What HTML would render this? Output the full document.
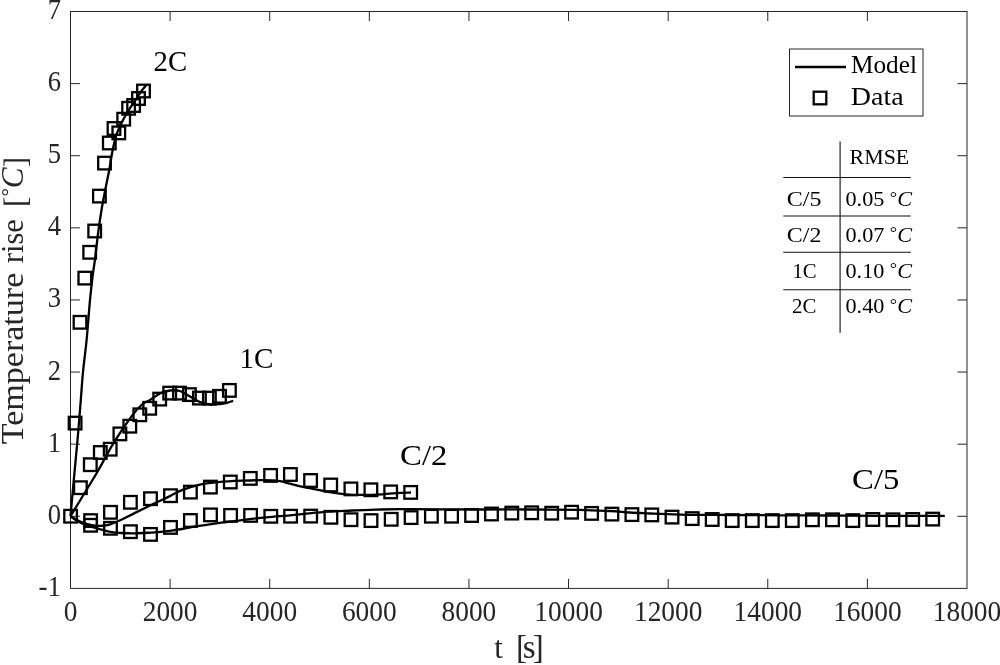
<!DOCTYPE html>
<html lang="en"><head><meta charset="utf-8"><title>Temperature rise: model vs data</title>
<style>html,body{margin:0;padding:0;background:#fff}body{width:1000px;height:665px;overflow:hidden}svg{display:block}text{font-family:"Liberation Serif","DejaVu Serif",serif}</style></head><body>
<svg width="1000" height="665" viewBox="0 0 1000 665">
<rect width="1000" height="665" fill="#fff"/>
<g stroke="#262626" stroke-width="1" fill="none">
<rect x="70.5" y="11.5" width="896.5" height="576.9"/>
<path d="M170.11 588.4v-9.5 M170.11 11.5v9.5"/>
<path d="M269.72 588.4v-9.5 M269.72 11.5v9.5"/>
<path d="M369.33 588.4v-9.5 M369.33 11.5v9.5"/>
<path d="M468.94 588.4v-9.5 M468.94 11.5v9.5"/>
<path d="M568.56 588.4v-9.5 M568.56 11.5v9.5"/>
<path d="M668.17 588.4v-9.5 M668.17 11.5v9.5"/>
<path d="M767.78 588.4v-9.5 M767.78 11.5v9.5"/>
<path d="M867.39 588.4v-9.5 M867.39 11.5v9.5"/>
<path d="M70.5 516.29h9.5 M967.0 516.29h-9.5"/>
<path d="M70.5 444.17h9.5 M967.0 444.17h-9.5"/>
<path d="M70.5 372.06h9.5 M967.0 372.06h-9.5"/>
<path d="M70.5 299.95h9.5 M967.0 299.95h-9.5"/>
<path d="M70.5 227.84h9.5 M967.0 227.84h-9.5"/>
<path d="M70.5 155.73h9.5 M967.0 155.73h-9.5"/>
<path d="M70.5 83.61h9.5 M967.0 83.61h-9.5"/>
</g>
<g fill="#262626" font-size="28.8">
<text x="70.5" y="621.3" text-anchor="middle" textLength="13.7" lengthAdjust="spacingAndGlyphs">0</text>
<text x="170.1" y="621.3" text-anchor="middle" textLength="54.8" lengthAdjust="spacingAndGlyphs">2000</text>
<text x="269.7" y="621.3" text-anchor="middle" textLength="54.8" lengthAdjust="spacingAndGlyphs">4000</text>
<text x="369.3" y="621.3" text-anchor="middle" textLength="54.8" lengthAdjust="spacingAndGlyphs">6000</text>
<text x="468.9" y="621.3" text-anchor="middle" textLength="54.8" lengthAdjust="spacingAndGlyphs">8000</text>
<text x="568.6" y="621.3" text-anchor="middle" textLength="68.5" lengthAdjust="spacingAndGlyphs">10000</text>
<text x="668.2" y="621.3" text-anchor="middle" textLength="68.5" lengthAdjust="spacingAndGlyphs">12000</text>
<text x="767.8" y="621.3" text-anchor="middle" textLength="68.5" lengthAdjust="spacingAndGlyphs">14000</text>
<text x="867.4" y="621.3" text-anchor="middle" textLength="68.5" lengthAdjust="spacingAndGlyphs">16000</text>
<text x="967.0" y="621.3" text-anchor="middle" textLength="68.5" lengthAdjust="spacingAndGlyphs">18000</text>
<text x="61" y="595.9" text-anchor="end" textLength="22.5" lengthAdjust="spacingAndGlyphs">-1</text>
<text x="61" y="523.8" text-anchor="end" textLength="13.3" lengthAdjust="spacingAndGlyphs">0</text>
<text x="61" y="451.7" text-anchor="end" textLength="13.3" lengthAdjust="spacingAndGlyphs">1</text>
<text x="61" y="379.6" text-anchor="end" textLength="13.3" lengthAdjust="spacingAndGlyphs">2</text>
<text x="61" y="307.4" text-anchor="end" textLength="13.3" lengthAdjust="spacingAndGlyphs">3</text>
<text x="61" y="235.3" text-anchor="end" textLength="13.3" lengthAdjust="spacingAndGlyphs">4</text>
<text x="61" y="163.2" text-anchor="end" textLength="13.3" lengthAdjust="spacingAndGlyphs">5</text>
<text x="61" y="91.1" text-anchor="end" textLength="13.3" lengthAdjust="spacingAndGlyphs">6</text>
<text x="61" y="19.0" text-anchor="end" textLength="13.3" lengthAdjust="spacingAndGlyphs">7</text>
</g>
<g fill="#262626" font-size="31">
<text y="657.6" font-size="31"><tspan x="494.2">t </tspan><tspan x="515.9 522.8 532.8" font-size="33">[s]</tspan></text>
<g transform="translate(23.3 0) rotate(-90)">
<text x="-444.3" y="0" textLength="171.6" lengthAdjust="spacingAndGlyphs">Temperature</text>
<text x="-263.1" y="0" textLength="43.8" lengthAdjust="spacingAndGlyphs">rise</text>
<text x="-207" y="0" textLength="50" lengthAdjust="spacingAndGlyphs"><tspan dy="2.5">[</tspan><tspan font-size="21" dy="-9.4">°</tspan><tspan font-style="italic" dy="6.9">C</tspan><tspan dy="2.5">]</tspan></text>
</g>
</g>
<g stroke="#000" stroke-width="2.3" fill="none" stroke-linejoin="round">
<path d="M70.5 516.2C71.6 517.0 74.8 519.4 77.0 520.8C79.2 522.1 80.2 523.0 83.8 524.3C87.4 525.6 94.4 527.5 98.8 528.8C103.2 530.0 106.3 531.1 110.1 531.8C113.9 532.5 117.2 532.8 121.4 533.0C125.6 533.2 130.0 533.4 135.0 533.3C140.0 533.2 147.1 532.8 151.3 532.6C155.5 532.4 156.9 532.2 160.0 531.9C163.1 531.6 166.3 531.4 170.0 530.9C173.7 530.4 178.0 529.7 182.0 529.0C186.0 528.3 188.0 527.7 194.0 526.7C200.0 525.7 210.1 524.2 218.1 523.1C226.1 522.0 234.1 521.1 242.1 520.1C250.1 519.1 258.2 518.1 266.2 517.3C274.2 516.5 283.7 515.9 290.0 515.3C296.3 514.7 297.6 514.5 304.0 513.9C310.4 513.3 320.1 512.3 328.1 511.7C336.1 511.1 344.1 510.9 352.1 510.5C360.1 510.1 368.2 509.8 376.2 509.6C384.2 509.4 389.4 509.2 400.0 509.2C410.6 509.1 426.7 509.2 440.0 509.3C453.3 509.4 465.0 509.5 480.0 509.5C495.0 509.5 513.3 509.4 530.0 509.5C546.7 509.6 566.7 509.6 580.0 509.8C593.3 510.1 601.7 510.6 610.0 511.0C618.3 511.4 623.3 512.1 630.0 512.5C636.7 512.9 641.7 513.1 650.0 513.5C658.3 513.9 666.7 514.4 680.0 514.6C693.3 514.9 713.3 514.9 730.0 515.0C746.7 515.1 763.3 515.2 780.0 515.3C796.7 515.4 813.3 515.4 830.0 515.5C846.7 515.6 860.9 515.8 880.0 515.8C899.1 515.8 934.0 515.8 944.8 515.8"/>
<path d="M70.5 516.2C71.6 516.8 74.8 518.9 77.0 520.0C79.2 521.1 81.5 522.0 83.8 522.8C86.1 523.6 88.5 524.3 91.0 524.8C93.5 525.3 96.5 525.7 98.8 525.8C101.0 525.9 102.6 525.8 104.5 525.5C106.4 525.2 107.3 525.2 110.1 524.3C112.9 523.3 117.2 521.7 121.4 519.8C125.6 517.9 129.2 515.8 135.0 512.9C140.8 510.0 150.4 505.3 156.2 502.5C162.0 499.7 165.7 498.2 170.0 496.1C174.3 494.0 177.0 492.0 182.0 490.1C187.0 488.2 194.1 485.9 200.1 484.6C206.1 483.3 211.1 482.9 218.1 482.2C225.1 481.5 235.1 481.0 242.1 480.7C249.1 480.4 255.2 480.2 260.2 480.2C265.2 480.1 268.9 480.2 272.2 480.4C275.5 480.6 277.0 480.7 280.0 481.2C283.0 481.7 286.0 482.6 290.0 483.6C294.0 484.6 297.6 485.7 304.0 487.1C310.4 488.4 321.1 490.7 328.1 491.9C335.1 493.1 340.1 493.8 346.1 494.3C352.1 494.8 358.2 494.9 364.2 494.9C370.2 494.9 376.2 494.6 382.2 494.3C388.2 494.0 395.2 493.2 400.0 492.9C404.8 492.6 409.2 492.6 411.0 492.5"/>
<path d="M70.5 516.2C72.8 512.5 80.3 500.0 84.0 494.0C87.7 488.0 90.1 484.0 92.5 480.0C94.9 476.0 94.9 476.3 98.5 470.0C102.1 463.7 108.5 451.2 114.1 442.1C119.7 433.0 127.4 421.9 132.1 415.6C136.8 409.3 139.0 407.1 142.0 404.5C145.0 401.9 147.0 401.8 150.0 400.0C153.0 398.2 156.7 395.1 160.0 393.5C163.3 391.9 166.7 390.9 170.0 390.5C173.3 390.1 176.7 390.0 180.0 391.0C183.3 392.0 186.7 394.7 190.0 396.5C193.3 398.3 196.7 400.7 200.0 402.0C203.3 403.3 206.7 404.2 210.0 404.5C213.3 404.8 217.2 404.3 220.0 404.0C222.8 403.7 224.8 403.3 227.0 402.8C229.2 402.3 232.2 401.1 233.2 400.8"/>
<path d="M70.5 516.2C71.0 510.2 72.6 492.7 73.8 480.0C75.0 467.3 76.3 453.3 77.5 440.0C78.7 426.7 79.9 411.3 80.8 400.0C81.7 388.7 82.0 382.0 83.0 372.0C84.0 362.0 85.4 352.0 86.6 340.0C87.8 328.0 89.0 310.5 90.0 300.0C91.0 289.5 91.7 283.7 92.5 277.0C93.3 270.3 93.9 267.8 94.9 260.0C95.9 252.2 97.3 238.8 98.5 230.0C99.7 221.2 100.8 214.2 102.0 207.0C103.2 199.8 104.6 193.2 105.8 187.0C107.0 180.8 108.3 175.3 109.3 169.7C110.3 164.1 111.0 158.9 112.0 153.5C113.0 148.1 114.3 141.9 115.6 137.5C116.8 133.1 118.1 130.2 119.5 127.0C120.9 123.8 122.5 121.1 124.0 118.3C125.5 115.5 127.2 112.6 128.8 110.0C130.4 107.4 131.7 105.6 133.7 102.6C135.7 99.6 138.8 94.7 140.9 91.8C143.0 88.9 145.4 86.3 146.3 85.2"/>
</g>
<g stroke="#000" stroke-width="2.3" fill="none">
<rect x="64.3" y="509.9" width="12.6" height="12.6"/><rect x="84.3" y="519.0" width="12.6" height="12.6"/><rect x="104.2" y="522.0" width="12.6" height="12.6"/><rect x="124.1" y="525.4" width="12.6" height="12.6"/><rect x="144.2" y="528.1" width="12.6" height="12.6"/><rect x="164.2" y="521.1" width="12.6" height="12.6"/><rect x="184.1" y="514.2" width="12.6" height="12.6"/><rect x="204.2" y="508.6" width="12.6" height="12.6"/><rect x="224.3" y="509.1" width="12.6" height="12.6"/><rect x="244.3" y="509.1" width="12.6" height="12.6"/><rect x="264.5" y="510.0" width="12.6" height="12.6"/><rect x="284.3" y="509.9" width="12.6" height="12.6"/><rect x="304.4" y="509.8" width="12.6" height="12.6"/><rect x="324.6" y="511.0" width="12.6" height="12.6"/><rect x="344.7" y="513.4" width="12.6" height="12.6"/><rect x="364.7" y="514.3" width="12.6" height="12.6"/><rect x="384.9" y="513.0" width="12.6" height="12.6"/><rect x="404.8" y="511.3" width="12.6" height="12.6"/><rect x="425.1" y="509.9" width="12.6" height="12.6"/><rect x="445.3" y="509.9" width="12.6" height="12.6"/><rect x="465.3" y="509.2" width="12.6" height="12.6"/><rect x="485.2" y="507.7" width="12.6" height="12.6"/><rect x="505.5" y="506.8" width="12.6" height="12.6"/><rect x="525.4" y="506.5" width="12.6" height="12.6"/><rect x="545.4" y="506.9" width="12.6" height="12.6"/><rect x="565.3" y="505.9" width="12.6" height="12.6"/><rect x="585.3" y="507.1" width="12.6" height="12.6"/><rect x="605.6" y="507.8" width="12.6" height="12.6"/><rect x="625.6" y="508.3" width="12.6" height="12.6"/><rect x="645.5" y="508.6" width="12.6" height="12.6"/><rect x="665.7" y="510.8" width="12.6" height="12.6"/><rect x="685.9" y="512.3" width="12.6" height="12.6"/><rect x="705.9" y="513.2" width="12.6" height="12.6"/><rect x="725.9" y="514.3" width="12.6" height="12.6"/><rect x="746.0" y="514.3" width="12.6" height="12.6"/><rect x="766.0" y="514.3" width="12.6" height="12.6"/><rect x="786.0" y="514.3" width="12.6" height="12.6"/><rect x="806.1" y="513.5" width="12.6" height="12.6"/><rect x="826.2" y="513.5" width="12.6" height="12.6"/><rect x="846.5" y="514.3" width="12.6" height="12.6"/><rect x="866.5" y="513.2" width="12.6" height="12.6"/><rect x="886.6" y="513.5" width="12.6" height="12.6"/><rect x="906.4" y="513.2" width="12.6" height="12.6"/><rect x="926.4" y="512.8" width="12.6" height="12.6"/>
<rect x="84.3" y="514.3" width="12.6" height="12.6"/><rect x="104.2" y="506.0" width="12.6" height="12.6"/><rect x="124.1" y="496.0" width="12.6" height="12.6"/><rect x="144.2" y="492.4" width="12.6" height="12.6"/><rect x="164.2" y="489.4" width="12.6" height="12.6"/><rect x="184.1" y="485.8" width="12.6" height="12.6"/><rect x="204.1" y="480.8" width="12.6" height="12.6"/><rect x="224.0" y="475.7" width="12.6" height="12.6"/><rect x="244.0" y="472.1" width="12.6" height="12.6"/><rect x="264.3" y="469.1" width="12.6" height="12.6"/><rect x="284.1" y="468.2" width="12.6" height="12.6"/><rect x="304.3" y="474.2" width="12.6" height="12.6"/><rect x="324.4" y="478.7" width="12.6" height="12.6"/><rect x="344.6" y="482.6" width="12.6" height="12.6"/><rect x="364.6" y="483.5" width="12.6" height="12.6"/><rect x="384.4" y="485.6" width="12.6" height="12.6"/><rect x="404.4" y="486.1" width="12.6" height="12.6"/>
<rect x="74.1" y="481.4" width="12.6" height="12.6"/><rect x="84.0" y="458.4" width="12.6" height="12.6"/><rect x="94.0" y="446.2" width="12.6" height="12.6"/><rect x="103.9" y="442.9" width="12.6" height="12.6"/><rect x="113.6" y="427.6" width="12.6" height="12.6"/><rect x="123.5" y="419.9" width="12.6" height="12.6"/><rect x="133.5" y="408.5" width="12.6" height="12.6"/><rect x="143.4" y="402.0" width="12.6" height="12.6"/><rect x="153.4" y="392.8" width="12.6" height="12.6"/><rect x="163.4" y="386.8" width="12.6" height="12.6"/><rect x="173.2" y="386.8" width="12.6" height="12.6"/><rect x="183.1" y="388.3" width="12.6" height="12.6"/><rect x="193.1" y="391.8" width="12.6" height="12.6"/><rect x="203.1" y="391.8" width="12.6" height="12.6"/><rect x="213.2" y="390.0" width="12.6" height="12.6"/><rect x="223.1" y="384.1" width="12.6" height="12.6"/>
<rect x="68.8" y="416.8" width="12.6" height="12.6"/><rect x="73.7" y="316.0" width="12.6" height="12.6"/><rect x="78.5" y="271.8" width="12.6" height="12.6"/><rect x="83.4" y="246.0" width="12.6" height="12.6"/><rect x="88.4" y="224.7" width="12.6" height="12.6"/><rect x="93.1" y="189.8" width="12.6" height="12.6"/><rect x="98.2" y="156.8" width="12.6" height="12.6"/><rect x="103.0" y="136.7" width="12.6" height="12.6"/><rect x="107.7" y="122.2" width="12.6" height="12.6"/><rect x="112.5" y="126.6" width="12.6" height="12.6"/><rect x="117.4" y="112.9" width="12.6" height="12.6"/><rect x="122.3" y="102.0" width="12.6" height="12.6"/><rect x="127.3" y="99.2" width="12.6" height="12.6"/><rect x="132.2" y="92.2" width="12.6" height="12.6"/><rect x="137.2" y="84.7" width="12.6" height="12.6"/>
</g>
<g fill="#000" font-size="28.5">
<text x="153.6" y="70.9" textLength="33.6" lengthAdjust="spacingAndGlyphs">2C</text>
<text x="239.5" y="368.1" textLength="34" lengthAdjust="spacingAndGlyphs">1C</text>
<text x="400" y="464.9" textLength="47.4" lengthAdjust="spacingAndGlyphs">C/2</text>
<text x="852.1" y="489.4" textLength="47.3" lengthAdjust="spacingAndGlyphs">C/5</text>
</g>
<rect x="789.5" y="49" width="133.5" height="67" fill="#fff" stroke="#262626" stroke-width="1"/>
<path d="M795 67h51" stroke="#000" stroke-width="2.3"/>
<rect x="813.7" y="91.7" width="12.6" height="12.6" fill="none" stroke="#000" stroke-width="2.3"/>
<g fill="#000" font-size="24.5">
<text x="851" y="73" textLength="66" lengthAdjust="spacingAndGlyphs">Model</text>
<text x="850.8" y="104.5" textLength="52.8" lengthAdjust="spacingAndGlyphs">Data</text>
</g>
<g stroke="#111" stroke-width="1.1" fill="none">
<path d="M840.1 141.4V332.8"/>
<path d="M783.3 177.5H910.8"/>
<path d="M783.3 216.0H910.8"/>
<path d="M783.3 252.3H910.8"/>
<path d="M783.3 289.7H910.8"/>
</g>
<g fill="#000" font-size="21.3">
<text x="849.6" y="164.4" textLength="59.6" lengthAdjust="spacingAndGlyphs">RMSE</text>
<text x="786.8" y="206.4" textLength="34.7" lengthAdjust="spacingAndGlyphs">C/5</text>
<text x="845.5" y="206.4" textLength="66.5" lengthAdjust="spacingAndGlyphs">0.05 <tspan font-size="17.5" dy="-3.4">°</tspan><tspan font-style="italic" dy="3.4">C</tspan></text>
<text x="786.8" y="241.7" textLength="34.7" lengthAdjust="spacingAndGlyphs">C/2</text>
<text x="845.5" y="241.7" textLength="66.5" lengthAdjust="spacingAndGlyphs">0.07 <tspan font-size="17.5" dy="-3.4">°</tspan><tspan font-style="italic" dy="3.4">C</tspan></text>
<text x="792.4" y="277.5" textLength="24.2" lengthAdjust="spacingAndGlyphs">1C</text>
<text x="845.5" y="277.5" textLength="66.5" lengthAdjust="spacingAndGlyphs">0.10 <tspan font-size="17.5" dy="-3.4">°</tspan><tspan font-style="italic" dy="3.4">C</tspan></text>
<text x="792.1" y="313.3" textLength="24.4" lengthAdjust="spacingAndGlyphs">2C</text>
<text x="845.5" y="313.3" textLength="66.5" lengthAdjust="spacingAndGlyphs">0.40 <tspan font-size="17.5" dy="-3.4">°</tspan><tspan font-style="italic" dy="3.4">C</tspan></text>
</g>
</svg></body></html>
